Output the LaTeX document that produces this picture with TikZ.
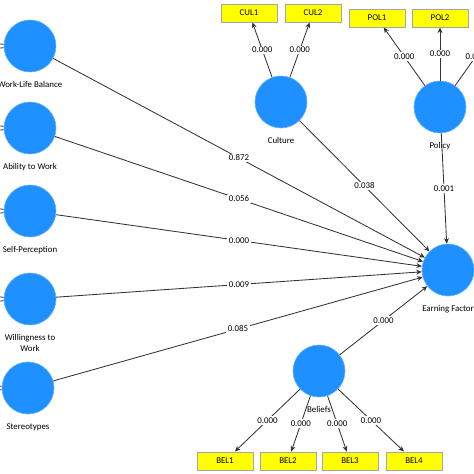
\documentclass[tikz,border=0pt]{standalone}
\usepackage{fontspec}
\setmainfont{Carlito}
\usepackage{xcolor}
\usetikzlibrary{arrows.meta,positioning}
\definecolor{lvblue}{RGB}{30,144,255}
\definecolor{mvyellow}{RGB}{255,255,0}

\begin{document}
\begin{tikzpicture}[
    font=\fontsize{6.3}{7.5}\selectfont,
    latent/.style={circle, fill=lvblue, draw=lvblue!70!white, minimum size=1.3cm, inner sep=0pt},
    item/.style={rectangle, fill=mvyellow, draw=gray!70, minimum width=1.4cm, minimum height=0.46cm, inner sep=0pt},
    link/.style={draw=black!80, line width=0.6pt},
    path/.style={link, -{Stealth[length=4pt,width=3.5pt]}},
    coef/.style={fill=white, inner sep=1pt},
    tag/.style={inner sep=0pt, align=center}
]
    \useasboundingbox (0,0) rectangle (11.85,11.85);

    % Constructs
    \node[latent] (wlb) at (0.75, 10.7) {};
    \node[latent] (abw) at (0.75, 8.65) {};
    \node[latent] (sp) at (0.75, 6.575) {};
    \node[latent] (wtw) at (0.75, 4.375) {};
    \node[latent] (ster) at (0.7, 2.15) {};
    \node[latent] (cul) at (7.025, 9.3) {};
    \node[latent] (pol) at (11.0, 9.175) {};
    \node[latent] (ef) at (11.2, 5.1) {};
    \node[latent] (bel) at (7.975, 2.575) {};

    \node[tag, below=0.23cm of wlb] {Work-Life Balance};
    \node[tag, below=0.23cm of abw] {Ability to Work};
    \node[tag, below=0.23cm of sp] {Self-Perception};
    \node[tag, below=0.23cm of wtw] {Willingness to\\Work};
    \node[tag, below=0.23cm of ster] {Stereotypes};
    \node[tag, below=0.23cm of cul] {Culture};
    \node[tag, below=0.23cm of pol] {Policy};
    \node[tag, below=0.23cm of ef] {Earning Factor};
    \node[tag, below=0.23cm of bel] {Beliefs};

    % Indicators
    \node[item] (cul1) at (6.225, 11.525) {CUL1};
    \node[item] (cul2) at (7.825, 11.525) {CUL2};
    \node[item] (pol1) at (9.425, 11.4) {POL1};
    \node[item] (pol2) at (11.0, 11.4) {POL2};
    \node[item] (pol3) at (12.575, 11.4) {POL3};
    \node[item] (bel1) at (5.625, 0.325) {BEL1};
    \node[item] (bel2) at (7.2, 0.325) {BEL2};
    \node[item] (bel3) at (8.75, 0.325) {BEL3};
    \node[item] (bel4) at (10.35, 0.325) {BEL4};

    % Outer loadings
    \foreach \c/\i in {cul/cul1, cul/cul2, pol/pol1, pol/pol2, pol/pol3, bel/bel1, bel/bel2, bel/bel3, bel/bel4}
        \draw[path] (\c) -- node[coef] {0.000} (\i);

    % Stubs of the left indicators
    \foreach \c in {wlb, abw, sp, wtw, ster} {
        \draw[link] ([yshift=1.2pt]\c.west) -- +(-0.5,0.05);
        \draw[link] ([yshift=-1.2pt]\c.west) -- +(-0.5,-0.05);
    }

    % Path coefficients
    \foreach \c/\v in {wlb/0.872, abw/0.056, sp/0.000, wtw/0.009, ster/0.085, cul/0.038, pol/0.001, bel/0.000}
        \draw[path] (\c) -- node[coef] {\v} (ef);
\end{tikzpicture}
\end{document}
